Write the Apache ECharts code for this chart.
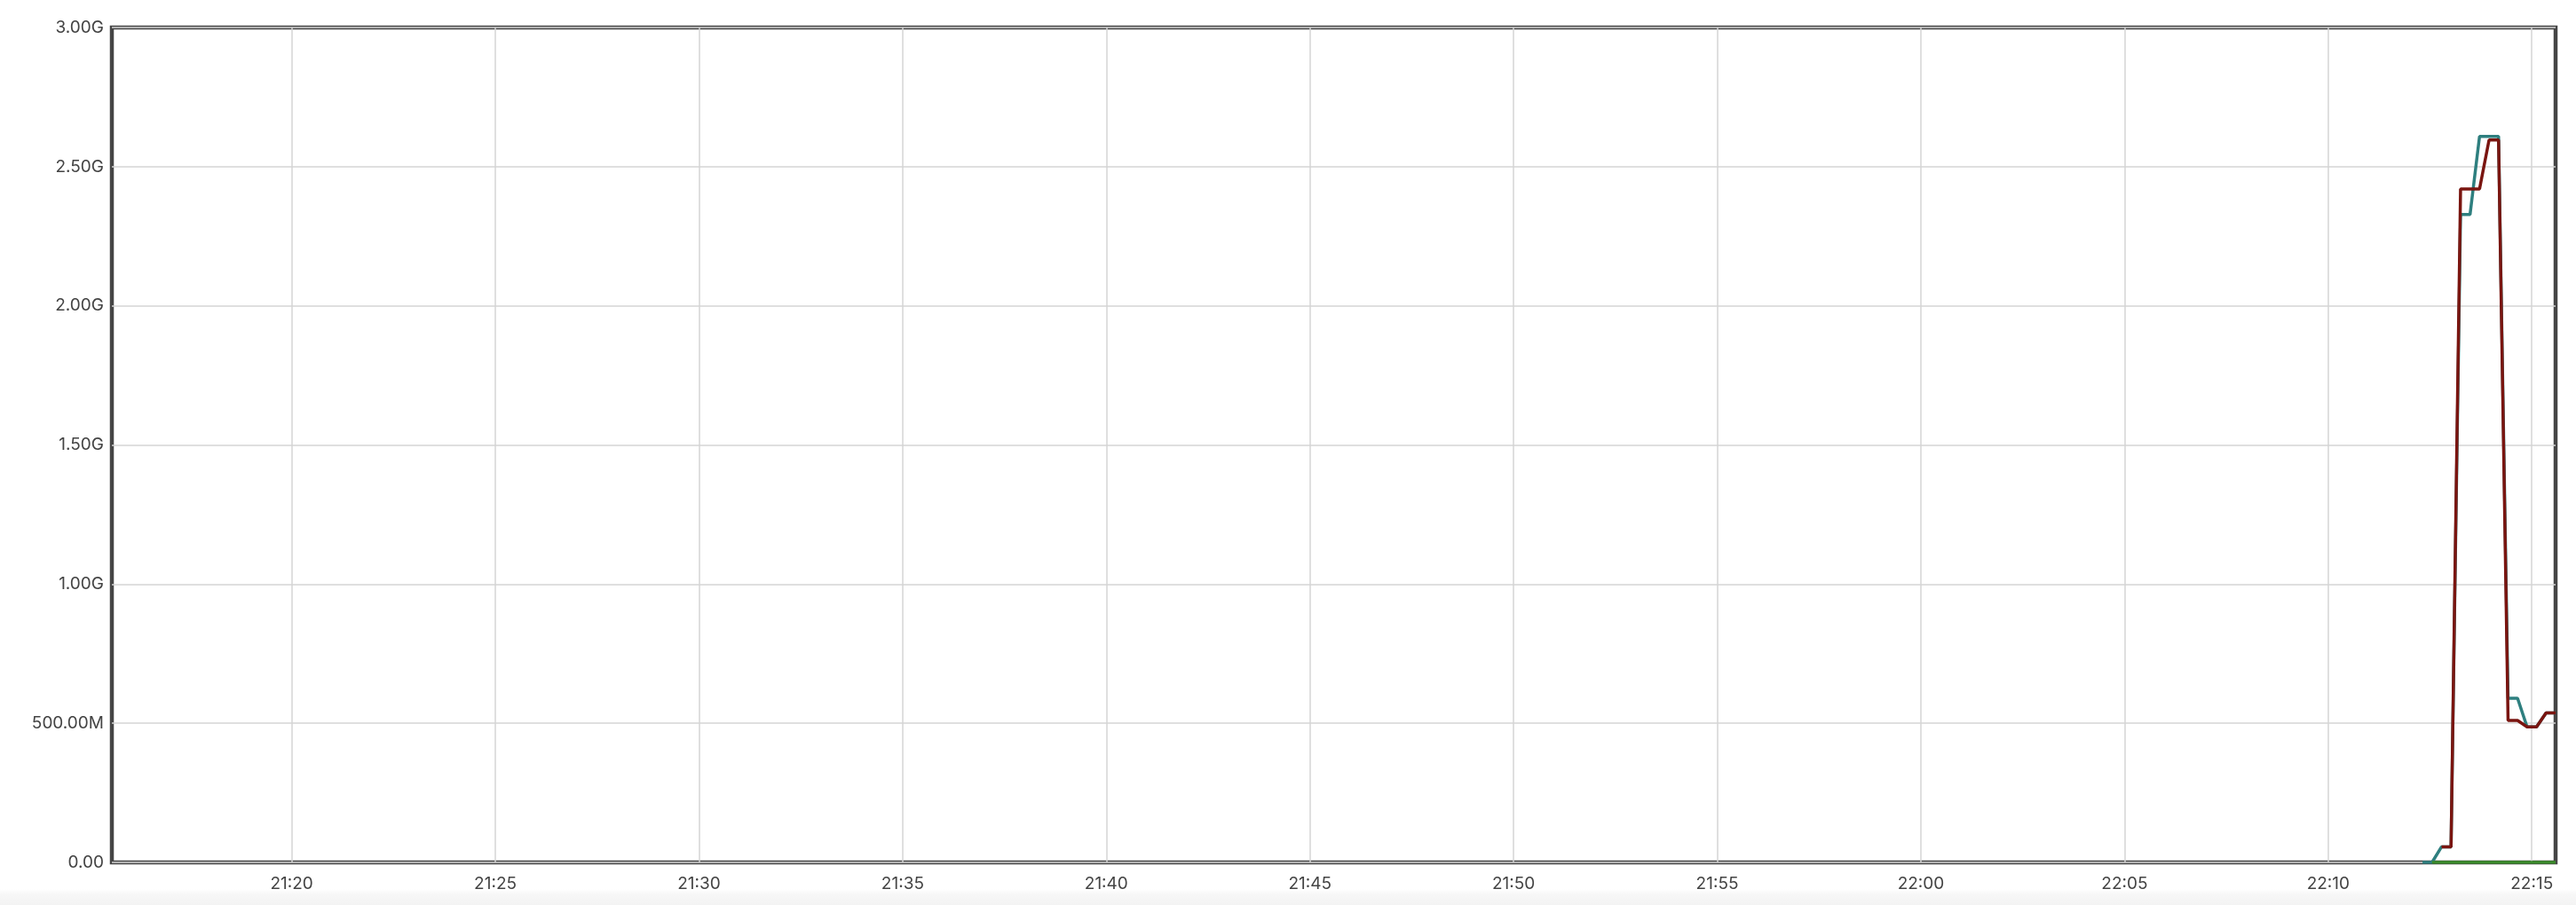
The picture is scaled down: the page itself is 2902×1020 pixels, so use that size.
<!DOCTYPE html>
<html>
<head>
<meta charset="utf-8">
<script src="https://cdn.jsdelivr.net/npm/echarts@6/dist/echarts.min.js"></script>
<style>
  html, body { margin: 0; padding: 0; }
  body { background: linear-gradient(to bottom, #ffffff 0px, #ffffff 1002px, #f7f7f7 1008px, #f3f3f3 1020px); }
  #chart { width: 2902px; height: 1020px; }
</style>
</head>
<body>
<div id="chart"></div>
<script>
// Time window of the chart
const axisStart = '21:15:35';
const axisEnd = '22:15:35';

// Sample timestamps (about every 14 s) at the end of the window
const times = [
  '22:12:19', '22:12:33', '22:12:47', '22:13:01', '22:13:15', '22:13:29',
  '22:13:43', '22:13:57', '22:14:11', '22:14:25', '22:14:39', '22:14:53',
  '22:15:07', '22:15:21', '22:15:35'
];

// Series values (bytes)
const tealValues = [0, 0, 56e6, 56e6, 2.328e9, 2.328e9, 2.609e9, 2.609e9, 2.609e9,
                    590e6, 590e6, 487e6, 487e6, 537e6, 537e6];
const redValues = [null, null, 56e6, 56e6, 2.42e9, 2.42e9, 2.42e9, 2.596e9, 2.596e9,
                   510e6, 510e6, 487e6, 487e6, 537e6, 537e6];
const greenValues = [null, 0, 0, 0, 0, 0, 0, 0, 0, 0, 0, 0, 0, 0, 0];

// X axis tick labels (every 5 minutes)
const xTickLabels = ['21:20', '21:25', '21:30', '21:35', '21:40', '21:45', '21:50',
                     '21:55', '22:00', '22:05', '22:10', '22:15'];

// Y axis ticks
const yMin = 0, yMax = 3e9, yStep = 5e8;

// helpers: clock string -> seconds of day
function secs(s) {
  const p = s.split(':').map(Number);
  return p[0] * 3600 + p[1] * 60 + (p[2] || 0);
}
function pad(n) { return (n < 10 ? '0' : '') + n; }
function fmtTime(v) {
  const h = Math.floor(v / 3600), m = Math.round((v % 3600) / 60);
  return pad(h) + ':' + pad(m);
}
function fmtBytes(v) {
  if (v === 0) return '0.00';
  if (v < 1e9) return (v / 1e6).toFixed(2) + 'M';
  return (v / 1e9).toFixed(2) + 'G';
}
function pairs(vals) {
  return times.map((t, i) => [secs(t), vals[i] === null ? '-' : vals[i]]);
}

const xTickValues = xTickLabels.map(secs);

const chart = echarts.init(document.getElementById('chart'), null, { renderer: 'canvas' });
const font = 'Inter, "Liberation Sans", sans-serif';
chart.setOption({
  animation: false,
  backgroundColor: 'transparent',
  grid: {
    left: 126, right: 23, top: 31, bottom: 48,
    show: true, borderColor: '#454545', borderWidth: 4.5, backgroundColor: '#ffffff'
  },
  xAxis: {
    type: 'value',
    min: secs(axisStart), max: secs(axisEnd),
    axisLine: { show: false },
    axisTick: { show: false, customValues: xTickValues },
    splitLine: { show: true, lineStyle: { color: '#d4d4d4', width: 1.5 } },
    axisLabel: {
      customValues: xTickValues,
      formatter: fmtTime, color: '#444444', fontSize: 19, fontFamily: font, margin: 15
    }
  },
  yAxis: {
    type: 'value', min: yMin, max: yMax, interval: yStep,
    axisLine: { show: false },
    axisTick: { show: false },
    splitLine: { show: true, lineStyle: { color: '#d4d4d4', width: 1.5 } },
    axisLabel: { formatter: fmtBytes, color: '#444444', fontSize: 19, fontFamily: font, margin: 9 }
  },
  series: [
    { name: 'teal', type: 'line', data: pairs(tealValues), showSymbol: false,
      lineStyle: { color: '#2e7f7f', width: 3.5 }, itemStyle: { color: '#2e7f7f' }, connectNulls: false },
    { name: 'red', type: 'line', data: pairs(redValues), showSymbol: false,
      lineStyle: { color: '#7a1510', width: 3.5 }, itemStyle: { color: '#7a1510' }, connectNulls: false },
    { name: 'green', type: 'line', data: pairs(greenValues), showSymbol: false,
      lineStyle: { color: '#3a8a2a', width: 3.5 }, itemStyle: { color: '#3a8a2a' }, connectNulls: false }
  ]
});
</script>
</body>
</html>
